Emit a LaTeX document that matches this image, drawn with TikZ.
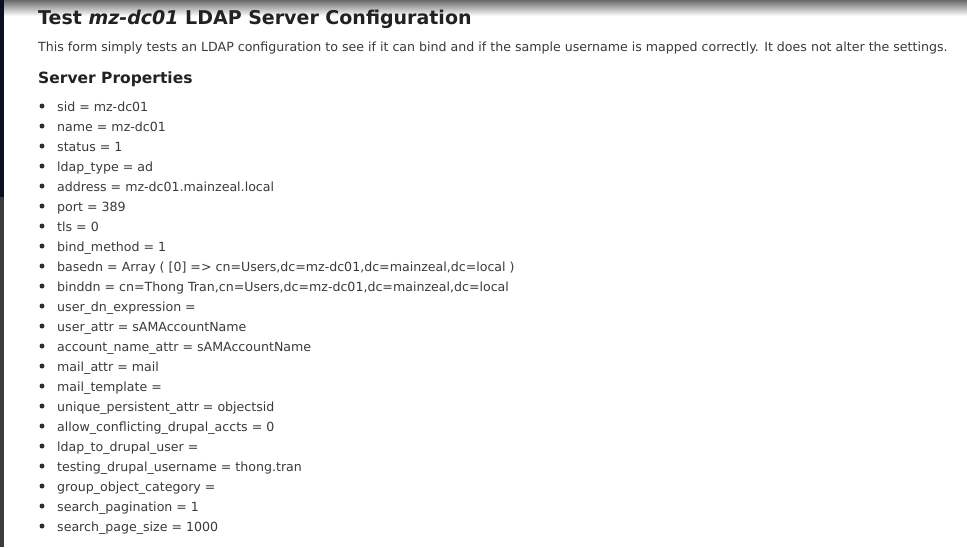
\documentclass[tikz,border=0pt]{standalone}
\usepackage{fontspec}
\setmainfont{DejaVu Sans}
\usepackage{tikz}
\definecolor{pagetext}{HTML}{3A3A38}
\definecolor{headtext}{HTML}{222222}
\definecolor{sidenavy}{HTML}{0B1020}
\definecolor{sidegray}{HTML}{3A3D40}
\definecolor{shadowgray}{HTML}{6A6A6A}
\tikzset{
  heading/.style={anchor=base west, inner sep=0pt, text=headtext, font=\bfseries\fontsize{19}{23}\selectfont},
  subheading/.style={anchor=base west, inner sep=0pt, text=headtext, font=\bfseries\fontsize{15.5}{19}\selectfont},
  para/.style={anchor=base west, inner sep=0pt, text=pagetext, font=\fontsize{12.6}{15}\selectfont},
  item/.style={anchor=base west, inner sep=0pt, text=pagetext, font=\fontsize{12.6}{15}\selectfont},
  bullet/.style={circle, fill=pagetext!80!black, inner sep=0pt, minimum size=5pt}
}
\begin{document}
\begin{tikzpicture}[x=1pt,y=-1pt]
\useasboundingbox (0,0) rectangle (967,547);
\fill[white] (0,0) rectangle (967,547);
\shade[top color=shadowgray, bottom color=white] (0,0) rectangle (967,16);
\fill[sidenavy] (0,0) rectangle (4,197);
\fill[sidegray] (0,197) rectangle (4,547);
% heading and intro
\node[heading] (title) at (38,24) {Test \textit{mz-dc01} LDAP Server Configuration};
\node[para] (intro) at (38,51) {This form simply tests an LDAP configuration to see if it can bind and if the sample username is mapped correctly. It does not alter the settings.};
\node[subheading] (props) at (38,83) {Server Properties};
% property list
\node[bullet] (b1) at (42,106) {}; \node[item] (p1) at (57,111) {sid = mz-dc01};
\node[bullet] (b2) at (42,126) {}; \node[item] (p2) at (57,131) {name = mz-dc01};
\node[bullet] (b3) at (42,146) {}; \node[item] (p3) at (57,151) {status = 1};
\node[bullet] (b4) at (42,166) {}; \node[item] (p4) at (57,171) {ldap\_type = ad};
\node[bullet] (b5) at (42,186) {}; \node[item] (p5) at (57,191) {address = mz-dc01.mainzeal.local};
\node[bullet] (b6) at (42,206) {}; \node[item] (p6) at (57,211) {port = 389};
\node[bullet] (b7) at (42,226) {}; \node[item] (p7) at (57,231) {tls = 0};
\node[bullet] (b8) at (42,246) {}; \node[item] (p8) at (57,251) {bind\_method = 1};
\node[bullet] (b9) at (42,266) {}; \node[item] (p9) at (57,271) {basedn = Array ( [0] => cn=Users,dc=mz-dc01,dc=mainzeal,dc=local )};
\node[bullet] (b10) at (42,286) {}; \node[item] (p10) at (57,291) {binddn = cn=Thong Tran,cn=Users,dc=mz-dc01,dc=mainzeal,dc=local};
\node[bullet] (b11) at (42,306) {}; \node[item] (p11) at (57,311) {user\_dn\_expression =};
\node[bullet] (b12) at (42,326) {}; \node[item] (p12) at (57,331) {user\_attr = sAMAccountName};
\node[bullet] (b13) at (42,346) {}; \node[item] (p13) at (57,351) {account\_name\_attr = sAMAccountName};
\node[bullet] (b14) at (42,366) {}; \node[item] (p14) at (57,371) {mail\_attr = mail};
\node[bullet] (b15) at (42,386) {}; \node[item] (p15) at (57,391) {mail\_template =};
\node[bullet] (b16) at (42,406) {}; \node[item] (p16) at (57,411) {unique\_persistent\_attr = objectsid};
\node[bullet] (b17) at (42,426) {}; \node[item] (p17) at (57,431) {allow\_conflicting\_drupal\_accts = 0};
\node[bullet] (b18) at (42,446) {}; \node[item] (p18) at (57,451) {ldap\_to\_drupal\_user =};
\node[bullet] (b19) at (42,466) {}; \node[item] (p19) at (57,471) {testing\_drupal\_username = thong.tran};
\node[bullet] (b20) at (42,486) {}; \node[item] (p20) at (57,491) {group\_object\_category =};
\node[bullet] (b21) at (42,506) {}; \node[item] (p21) at (57,511) {search\_pagination = 1};
\node[bullet] (b22) at (42,526) {}; \node[item] (p22) at (57,531) {search\_page\_size = 1000};
\end{tikzpicture}
\end{document}
